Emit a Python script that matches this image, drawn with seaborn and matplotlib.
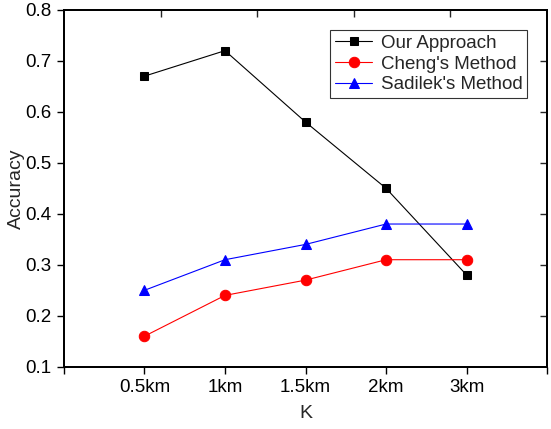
import pandas as pd
import matplotlib
matplotlib.use("Agg")
import matplotlib.pyplot as plt
import seaborn as sns

# data
k_labels = ["0.5km", "1km", "1.5km", "2km", "3km"]
our_approach = [0.67, 0.72, 0.58, 0.45, 0.28]
cheng_method = [0.16, 0.24, 0.27, 0.31, 0.31]
sadilek_method = [0.25, 0.31, 0.34, 0.38, 0.38]

sns.set_style("ticks")
plt.rcParams["font.family"] = ["Liberation Sans", "DejaVu Sans"]

xpos = list(range(1, len(k_labels) + 1))
series = [
    ("Our Approach", our_approach, "black", "s", 6),
    ("Cheng's Method", cheng_method, "red", "o", 7.5),
    ("Sadilek's Method", sadilek_method, "blue", "^", 7.5),
]

fig = plt.figure(figsize=(5.51, 4.29), dpi=100)
ax = fig.add_axes([0.116, 0.145, 0.877, 0.832])

for name, vals, col, mk, ms in series:
    df = pd.DataFrame({"x": xpos, "y": vals})
    sns.lineplot(data=df, x="x", y="y", ax=ax, color=col, marker=mk,
                 markersize=ms, markeredgecolor=col, linewidth=0.8, label=name)

ax.set_xlim(0, 6)
ax.set_ylim(0.1, 0.8)
ax.set_xticks(range(0, 7))
ax.set_xticklabels([""] + k_labels + [""])
ax.set_yticks([0.1, 0.2, 0.3, 0.4, 0.5, 0.6, 0.7, 0.8])
ax.set_yticklabels(["0.1", "0.2", "0.3", "0.4", "0.5", "0.6", "0.7", "0.8"])
ax.tick_params(axis="both", direction="out", length=5, width=1, labelsize=13.5,
               colors="black", pad=4)
ax.set_xlabel("K", fontsize=14, labelpad=6)
ax.set_ylabel("Accuracy", fontsize=14, labelpad=0)
for sp in ax.spines.values():
    sp.set_visible(True)
    sp.set_linewidth(1.2)
    sp.set_color("black")

# right-side inward ticks
ax_r = ax.twinx()
ax_r.set_ylim(0.1, 0.8)
ax_r.set_yticks([0.2, 0.3, 0.4, 0.5, 0.6, 0.7])
ax_r.tick_params(axis="y", direction="in", length=5, width=1, labelright=False)

# top inward ticks on its own scale
ax_t = ax.twiny()
ax_t.set_xlim(0, 1)
ax_t.set_xticks([0.2, 0.4, 0.6, 0.8])
ax_t.tick_params(axis="x", direction="in", length=5, width=1, labeltop=False)
for a in (ax_r, ax_t):
    for sp in a.spines.values():
        sp.set_linewidth(1.2)
        sp.set_color("black")

leg = ax.legend(loc="upper right", bbox_to_anchor=(0.959, 0.944), fontsize=13.5,
                frameon=True, fancybox=False, edgecolor="black", handlelength=2.0,
                handletextpad=0.45, borderpad=0.25, labelspacing=0.2, borderaxespad=0)
leg.get_frame().set_linewidth(0.8)

fig.savefig("out.png", dpi=100)
